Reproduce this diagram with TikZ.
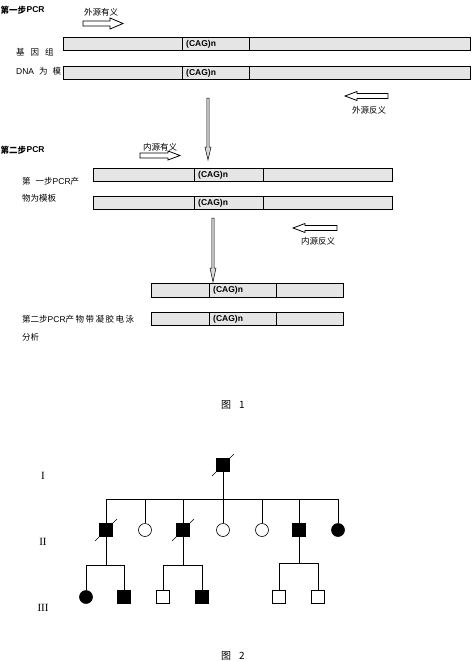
\documentclass[tikz,border=0pt]{standalone}
\usepackage{fontspec}
\setmainfont{Liberation Serif}
\newfontfamily\cjk{Noto Sans CJK SC}
\newfontfamily\arialf{Liberation Sans}
\begin{document}
\begin{tikzpicture}[x=1pt,y=-1pt,
  bar/.style={draw, line width=0.9pt, fill=gray!20, inner sep=0},
  div/.style={line width=0.8pt},
  cag/.style={font=\arialf\bfseries\fontsize{8.5}{9}\selectfont, anchor=west, inner sep=0},
  zh/.style={font=\cjk\fontsize{8.5}{9}\selectfont, inner sep=0},
  head/.style={font=\arialf\bfseries\fontsize{8.5}{10}\selectfont, inner sep=0, anchor=west},
  blk/.style={draw, line width=0.8pt, fill=white},
  vline/.style={draw, line width=0.5pt, fill=gray!30},
  figcap/.style={font=\cjk\fontsize{10}{12}\selectfont, inner sep=0},
  gen/.style={font=\fontsize{11}{12}\selectfont, inner sep=0},
  sq/.style={draw, rectangle, minimum size=13pt, inner sep=0, line width=0.6pt},
  ci/.style={draw, circle, minimum size=13pt, inner sep=0, line width=0.6pt},
  aff/.style={fill=black},
  ped/.style={line width=0.6pt}]
\useasboundingbox (0,0) rectangle (474,661);

\newcommand\dnabar[7]{%
  \node[bar, minimum width={#4pt-#2pt}, minimum height={#5pt-#3pt}] (#1) at ({(#2+#4)/2},{(#3+#5)/2}) {};
  \draw[div] (#6,#3) -- (#6,#5);
  \draw[div] (#7,#3) -- (#7,#5);
  \node[cag] at ({#6+4},{(#3+#5)/2+0.5}) {(CAG)n};}

% ---------- Figure 1 ----------
\node[head] (s1) at (0.5,10) {\cjk 第一步}; \node[head] at (s1.east) [anchor=west] {PCR};
\node[head] (s2) at (0.5,150) {\cjk 第二步}; \node[head] at (s2.east) [anchor=west] {PCR};

\dnabar{b1}{63}{37}{470}{50}{182}{249}
\dnabar{b2}{63}{66}{470}{79}{182}{249}
\dnabar{b3}{93}{168}{392}{181}{194}{263}
\dnabar{b4}{93}{196}{392}{209}{194}{263}
\dnabar{b5}{151}{283}{343}{297}{209}{276}
\dnabar{b6}{151}{312}{343}{325}{209}{276}

% primer arrows
\path[blk] (83,21) -- (110,21) -- (110,18) -- (123,23.5) -- (110,29) -- (110,26) -- (83,26) -- cycle;
\node[zh] (t1) at (101,12) {外源有义};
\path[blk] (388,93.5) -- (357,93.5) -- (357,91.5) -- (345,96) -- (357,100.5) -- (357,98.5) -- (388,98.5) -- cycle;
\node[zh] (t2) at (369,110) {外源反义};
\path[blk] (140,153) -- (168,153) -- (168,151) -- (180,155.5) -- (168,160) -- (168,158) -- (140,158) -- cycle;
\node[zh] (t3) at (160,147) {内源有义};
\path[blk] (337,225.5) -- (305,225.5) -- (305,223.5) -- (293,228) -- (305,232.5) -- (305,230.5) -- (337,230.5) -- cycle;
\node[zh] (t4) at (318,241) {内源反义};

% vertical process arrows
\path[vline] (206.8,98) -- (206.8,147) -- (205,147) -- (208,160) -- (211,147) -- (209.2,147) -- (209.2,98) -- cycle;
\path[vline] (211.8,218) -- (211.8,268) -- (210,268) -- (213,282) -- (216,268) -- (214.2,268) -- (214.2,218) -- cycle;

% side labels
\node[zh, anchor=west] at (16,52) {基\hspace{6pt}因\hspace{6pt}组};
\node[zh, anchor=west] at (16,71) {\arialf DNA\hspace{5pt}\cjk 为\hspace{5pt}模};
\node[zh, anchor=west] at (22,181) {第\hspace{5pt}一步\arialf PCR\cjk 产};
\node[zh, anchor=west] at (22,198) {物为模板};
\node[zh, anchor=west] at (22,319) {第二步\arialf PCR\cjk 产\hspace{1.5pt}物\hspace{1.5pt}带\hspace{1.5pt}凝\hspace{1.5pt}胶\hspace{1.5pt}电\hspace{1.5pt}泳};
\node[zh, anchor=west] at (22,337) {分析};

\node[figcap] (f1) at (233,405) {图\hspace{8pt}1};

% ---------- Figure 2: pedigree ----------
\node[gen] at (43,476) {I};
\node[gen] at (43,542) {II};
\node[gen] at (43,608) {III};

\node[sq,aff] (p1) at (223,465) {};
\draw[ped] (p1.center) ++(-11,11) -- ++(22,-22);

\node[sq,aff] (c1) at (106,530) {};
\node[ci] (c2) at (145,530) {};
\node[sq,aff] (c3) at (183,530) {};
\node[ci] (c4) at (223,530) {};
\node[ci] (c5) at (262,530) {};
\node[sq,aff] (c6) at (299,530) {};
\node[ci,aff] (c7) at (338,530) {};
\draw[ped] (c1.center) ++(-11,11) -- ++(22,-22);
\draw[ped] (c3.center) ++(-11,11) -- ++(22,-22);

\coordinate (sib) at (223,499);
\draw[ped] (p1.south) -- (sib);
\draw[ped] (106,499) -- (338,499);
\foreach \c in {c1,c2,c3,c4,c5,c6,c7} \draw[ped] (\c.north |- sib) -- (\c.north);

\node[ci,aff] (g1) at (86,597) {};
\node[sq,aff] (g2) at (124,597) {};
\node[sq] (g3) at (163,597) {};
\node[sq,aff] (g4) at (202,597) {};
\node[sq] (g5) at (279,597) {};
\node[sq] (g6) at (318,597) {};

\draw[ped] (c1.south) -- (106,565);
\draw[ped] (g1.north |- 0,565) -- (g2.north |- 0,565);
\draw[ped] (g1.north |- 0,565) -- (g1.north);
\draw[ped] (g2.north |- 0,565) -- (g2.north);

\draw[ped] (c3.south) -- (183,565);
\draw[ped] (g3.north |- 0,565) -- (g4.north |- 0,565);
\draw[ped] (g3.north |- 0,565) -- (g3.north);
\draw[ped] (g4.north |- 0,565) -- (g4.north);

\draw[ped] (c6.south) -- (299,563);
\draw[ped] (g5.north |- 0,563) -- (g6.north |- 0,563);
\draw[ped] (g5.north |- 0,563) -- (g5.north);
\draw[ped] (g6.north |- 0,563) -- (g6.north);

\node[figcap] (f2) at (233,656) {图\hspace{8pt}2};
\end{tikzpicture}
\end{document}
